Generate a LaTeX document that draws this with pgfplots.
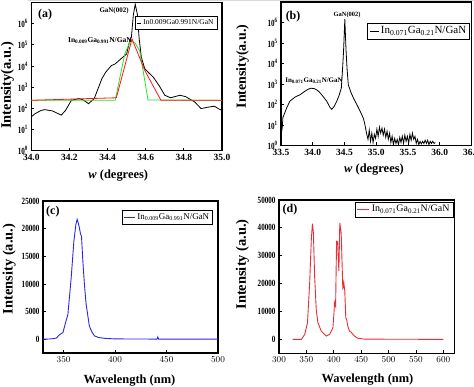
\documentclass[border=0pt]{standalone}
\usepackage{pgfplots}
\pgfplotsset{compat=1.18}
\usepackage{fontspec}
\setmainfont{Liberation Serif}
\usepackage{graphicx}
\newcommand\sx[1]{\scalebox{0.75}[1]{#1}}
\newcommand\fs[1]{\fontsize{#1}{#1}\selectfont}
\newcommand\lt[1]{\sx{10\textsuperscript{#1}}}
\definecolor{cred}{RGB}{250,20,20}
\definecolor{cgreen}{RGB}{40,225,40}
\definecolor{cblue}{RGB}{40,40,235}
\definecolor{dred}{RGB}{235,45,55}
\pgfplotsset{
  myax/.style={
    scale only axis,
    anchor=south west,
    scaled ticks=false,
    axis line style={line width=1.1bp},
    every tick/.style={black, line width=0.8bp},
    tick align=inside,
    tick pos=left,
    major tick length=3bp,
    minor tick num=0,
    ticklabel style={font=\fs{9.5}\bfseries},
    xlabel style={font=\fs{12.5}\bfseries, anchor=center},
    ylabel style={font=\fs{15}\bfseries, anchor=center},
    legend cell align=left,
    legend style={draw=black, line width=0.5bp, inner sep=1.5bp, row sep=0bp},
  }
}
\begin{document}
\begin{tikzpicture}
\useasboundingbox (0bp,0bp) rectangle (474bp,387bp);
\fill[gray!30] (28bp,385.5bp) rectangle (474bp,387bp);
% ---------------- (a)
\begin{axis}[myax, at={(31.3bp,236.3bp)}, width=190.7bp, height=148.2bp,
  xmin=34, xmax=35, ymin=1, ymax=1e7, ymode=log, log basis y=10,
  xtick={34,34.2,34.4,34.6,34.8,35}, xticklabels={34.0,34.2,34.4,34.6,34.8,35.0},
  ytick={1,10,100,1000,10000,100000,1000000},
  yticklabels={\lt{0},\lt{1},\lt{2},\lt{3},\lt{4},\lt{5},\lt{6}},
  xlabel={\textit{w} (degrees)}, ylabel={Intensity(a.u.)},
  xlabel style={at={(axis description cs:0.456,-0.169)}},
  ylabel style={font=\fs{14.5}\bfseries, at={(axis description cs:-0.125,0.44)}},
  legend style={at={(axis description cs:0.975,0.909)}, anchor=north east, font=\fs{7.5}},
  legend image code/.code={\draw[#1] (0bp,0bp) -- (4bp,0bp);},
]
\addplot[black, line width=0.8bp] coordinates {
(34.00,40) (34.02,56) (34.05,79) (34.07,87) (34.11,76) (34.157,48) (34.18,81)
(34.21,240) (34.25,290) (34.27,257) (34.30,166) (34.31,200) (34.33,290)
(34.36,1450) (34.37,2500) (34.39,5100) (34.42,10500) (34.44,12600) (34.47,21900)
(34.50,37000) (34.516,158000) (34.525,230000) (34.535,2500000) (34.545,8300000)
(34.556,2800000) (34.565,224000) (34.577,25700) (34.595,7400) (34.64,2950)
(34.67,1200) (34.70,417) (34.73,316) (34.78,417) (34.81,355) (34.857,200)
(34.89,98) (34.93,115) (34.96,126) (34.98,98) (35.00,79)};
\addlegendentry{In0.009Ga0.991N/GaN}
\addplot[cgreen, line width=0.8bp, forget plot] coordinates {
(34.0,240) (34.44,240) (34.49,37000) (34.52,158000) (34.545,120000)
(34.568,53700) (34.586,6200) (34.612,250) (35.0,240)};
\addplot[cred, line width=0.8bp, forget plot] coordinates {
(34.0,240) (34.446,316) (34.528,190000) (34.595,6200) (34.68,240) (35.0,240)};
\node[font=\fs{7}\bfseries] at (axis cs:34.434,4000000) {GaN(002)};
\node[font=\fs{7.5}\bfseries] at (axis cs:34.36,160000) {In\textsubscript{0.009}Ga\textsubscript{0.991}N/GaN};
\node[font=\fs{12}\bfseries] at (axis cs:34.072,2600000) {(a)};
\end{axis}
% ---------------- (b)
\begin{axis}[myax, at={(281bp,241.5bp)}, width=190.5bp, height=143.5bp,
  xmin=33.5, xmax=36.5, ymin=1, ymax=1e7, ymode=log, log basis y=10,
  xtick={33.5,34,34.5,35,35.5,36,36.5}, xticklabels={33.5,34.0,34.5,35.0,35.5,36.0,36.5},
  ytick={1,10,100,1000,10000,100000,1000000},
  yticklabels={\lt{0},\lt{1},\lt{2},\lt{3},\lt{4},\lt{5},\lt{6}},
  xlabel={\textit{w} (degrees)}, ylabel={Intensity(a.u.)},
  xlabel style={at={(axis description cs:0.488,-0.171)}},
  ylabel style={font=\fs{14}\bfseries, at={(axis description cs:-0.202,0.55)}},
  legend style={at={(axis description cs:0.992,0.854)}, anchor=north east, font=\fs{11}},
  legend image code/.code={\draw[#1] (0bp,0bp) -- (9bp,0bp);},
]
\addplot[black, line width=0.8bp] coordinates {
(33.50,3) (33.52,7.6) (33.53,23) (33.59,69) (33.64,145) (33.72,230) (33.80,300)
(33.87,430) (33.93,560) (33.97,620) (34.02,600) (34.06,525) (34.10,420) (34.14,300)
(34.18,210) (34.22,145) (34.27,74) (34.30,58) (34.34,83) (34.38,150) (34.41,250)
(34.45,630) (34.47,5750) (34.485,40000) (34.495,229000) (34.505,1450000) (34.515,229000)
(34.525,40000) (34.54,5750) (34.56,912) (34.60,400) (34.64,209) (34.68,120) (34.72,69)
(34.77,33) (34.80,20) (34.82,11) (34.85,3.6)
(34.87,2.0) (34.89,5.6) (34.91,1.6) (34.93,4.0) (34.95,1.4) (34.97,3.5) (34.99,2.2)
(35.01,6.3) (35.03,2.8) (35.05,7.9) (35.07,4.0) (35.09,7.1) (35.11,3.2) (35.13,6.3)
(35.15,2.5) (35.17,5.0) (35.19,2.0) (35.21,4.0) (35.23,1.4) (35.25,2.8) (35.27,1.1)
(35.29,2.2) (35.31,1.26) (35.33,2.0) (35.35,1.1) (35.37,2.5) (35.39,1.4) (35.41,2.8)
(35.43,1.26) (35.45,3.2) (35.47,1.6) (35.49,2.8) (35.51,1.26) (35.53,3.5) (35.55,1.8)
(35.57,4.0) (35.59,2.0) (35.61,2.8) (35.63,1.26) (35.65,2.0) (35.67,1.1) (35.69,1.6)
(35.71,1.2) (35.73,1.6) (35.75,1.26) (35.77,1.8) (35.79,1.26) (35.81,1.8) (35.83,1.1)
(35.85,1.6) (35.87,1.26) (35.89,1.6) (35.91,1.26) (35.93,1.4)};
\addlegendentry{In\textsubscript{0.071}Ga\textsubscript{0.21}N/GaN}
\node[font=\fs{6.5}\bfseries] at (axis cs:34.54,2400000) {GaN(002)};
\node[font=\fs{7}\bfseries] at (axis cs:34.02,1380) {In\textsubscript{0.071}Ga\textsubscript{0.21}N/GaN};
\node[font=\fs{12}\bfseries] at (axis cs:33.69,1850000) {(b)};
\end{axis}
% ---------------- (c)
\begin{axis}[myax, at={(43bp,34bp)}, width=175bp, height=152bp,
  xmin=330, xmax=500, ymin=-2500, ymax=25000,
  xtick={350,400,450,500},
  ytick={0,5000,10000,15000,20000,25000},
  yticklabels={\sx{0},\sx{5000},\sx{10000},\sx{15000},\sx{20000},\sx{25000}},
  xlabel={Wavelength (nm)}, ylabel={Intensity (a.u.)},
  xlabel style={at={(axis description cs:0.494,-0.178)}},
  ylabel style={font=\fs{14.5}\bfseries, at={(axis description cs:-0.193,0.553)}},
  legend style={at={(axis description cs:0.971,0.941)}, anchor=north east, font=\fs{9}},
  legend image code/.code={\draw[#1] (0bp,0bp) -- (11bp,0bp);},
]
\addplot[cblue, line width=0.9bp] coordinates {
(330,0) (336,30) (340,100) (343,200) (346,800) (349.4,1200) (351.5,2700) (354.2,4500)
(357.4,11150) (360,17750) (362,20800) (363.2,21680) (364.3,21000) (365.2,20300)
(366.4,19100) (367.4,18600) (368.7,14150) (370.2,10000) (371.9,6300) (373.5,4300)
(375,2400) (377.5,1300) (380,600) (384,300) (390,150) (400,50) (420,30) (440.8,20)
(441.5,400) (442.3,20) (460,10) (500,0)};
\addlegendentry{In\textsubscript{0.009}Ga\textsubscript{0.991}N/GaN}
\node[font=\fs{12}\bfseries] at (axis cs:339.6,23100) {(c)};
\end{axis}
% ---------------- (d)
\begin{axis}[myax, at={(279bp,33.7bp)}, width=175.3bp, height=153.3bp,
  xmin=300, xmax=620, ymin=-5000, ymax=50000,
  xtick={300,350,400,450,500,550,600},
  ytick={0,10000,20000,30000,40000,50000},
  yticklabels={\sx{0},\sx{10000},\sx{20000},\sx{30000},\sx{40000},\sx{50000}},
  xlabel={Wavelength (nm)}, ylabel={Intensity (a.u.)},
  xlabel style={at={(axis description cs:0.505,-0.174)}},
  ylabel style={font=\fs{14.5}\bfseries, at={(axis description cs:-0.208,0.58)}},
  legend style={at={(axis description cs:0.994,0.99)}, anchor=north east, font=\fs{10}},
  legend image code/.code={\draw[#1] (0bp,0bp) -- (12bp,0bp);},
]
\addplot[dred, line width=0.9bp] coordinates {
(325,0) (341,0) (347,1800) (352,6000) (356,20300) (359,35800) (361,41500)
(362.8,38200) (365,22700) (368,10700) (371,6000) (377,3000) (386.4,1200)
(392.4,1800) (395.5,3000) (398.4,4200) (400.2,9000) (401.4,13100) (403.3,11900)
(405.1,35200) (406.9,35000) (409.3,24500) (411,41800) (413.5,38200) (415.3,26300)
(416.5,17900) (418.3,20300) (420.1,17300) (421.9,7800) (423.7,7000) (425.5,4800)
(428.6,3000) (431.7,2600) (434.7,1800) (437.7,1200) (443.7,400) (455.8,100)
(500,50) (600,0)};
\addlegendentry{In\textsubscript{0.071}Ga\textsubscript{0.21}N/GaN}
\node[font=\fs{12}\bfseries] at (axis cs:320,46500) {(d)};
\end{axis}
\end{tikzpicture}
\end{document}
